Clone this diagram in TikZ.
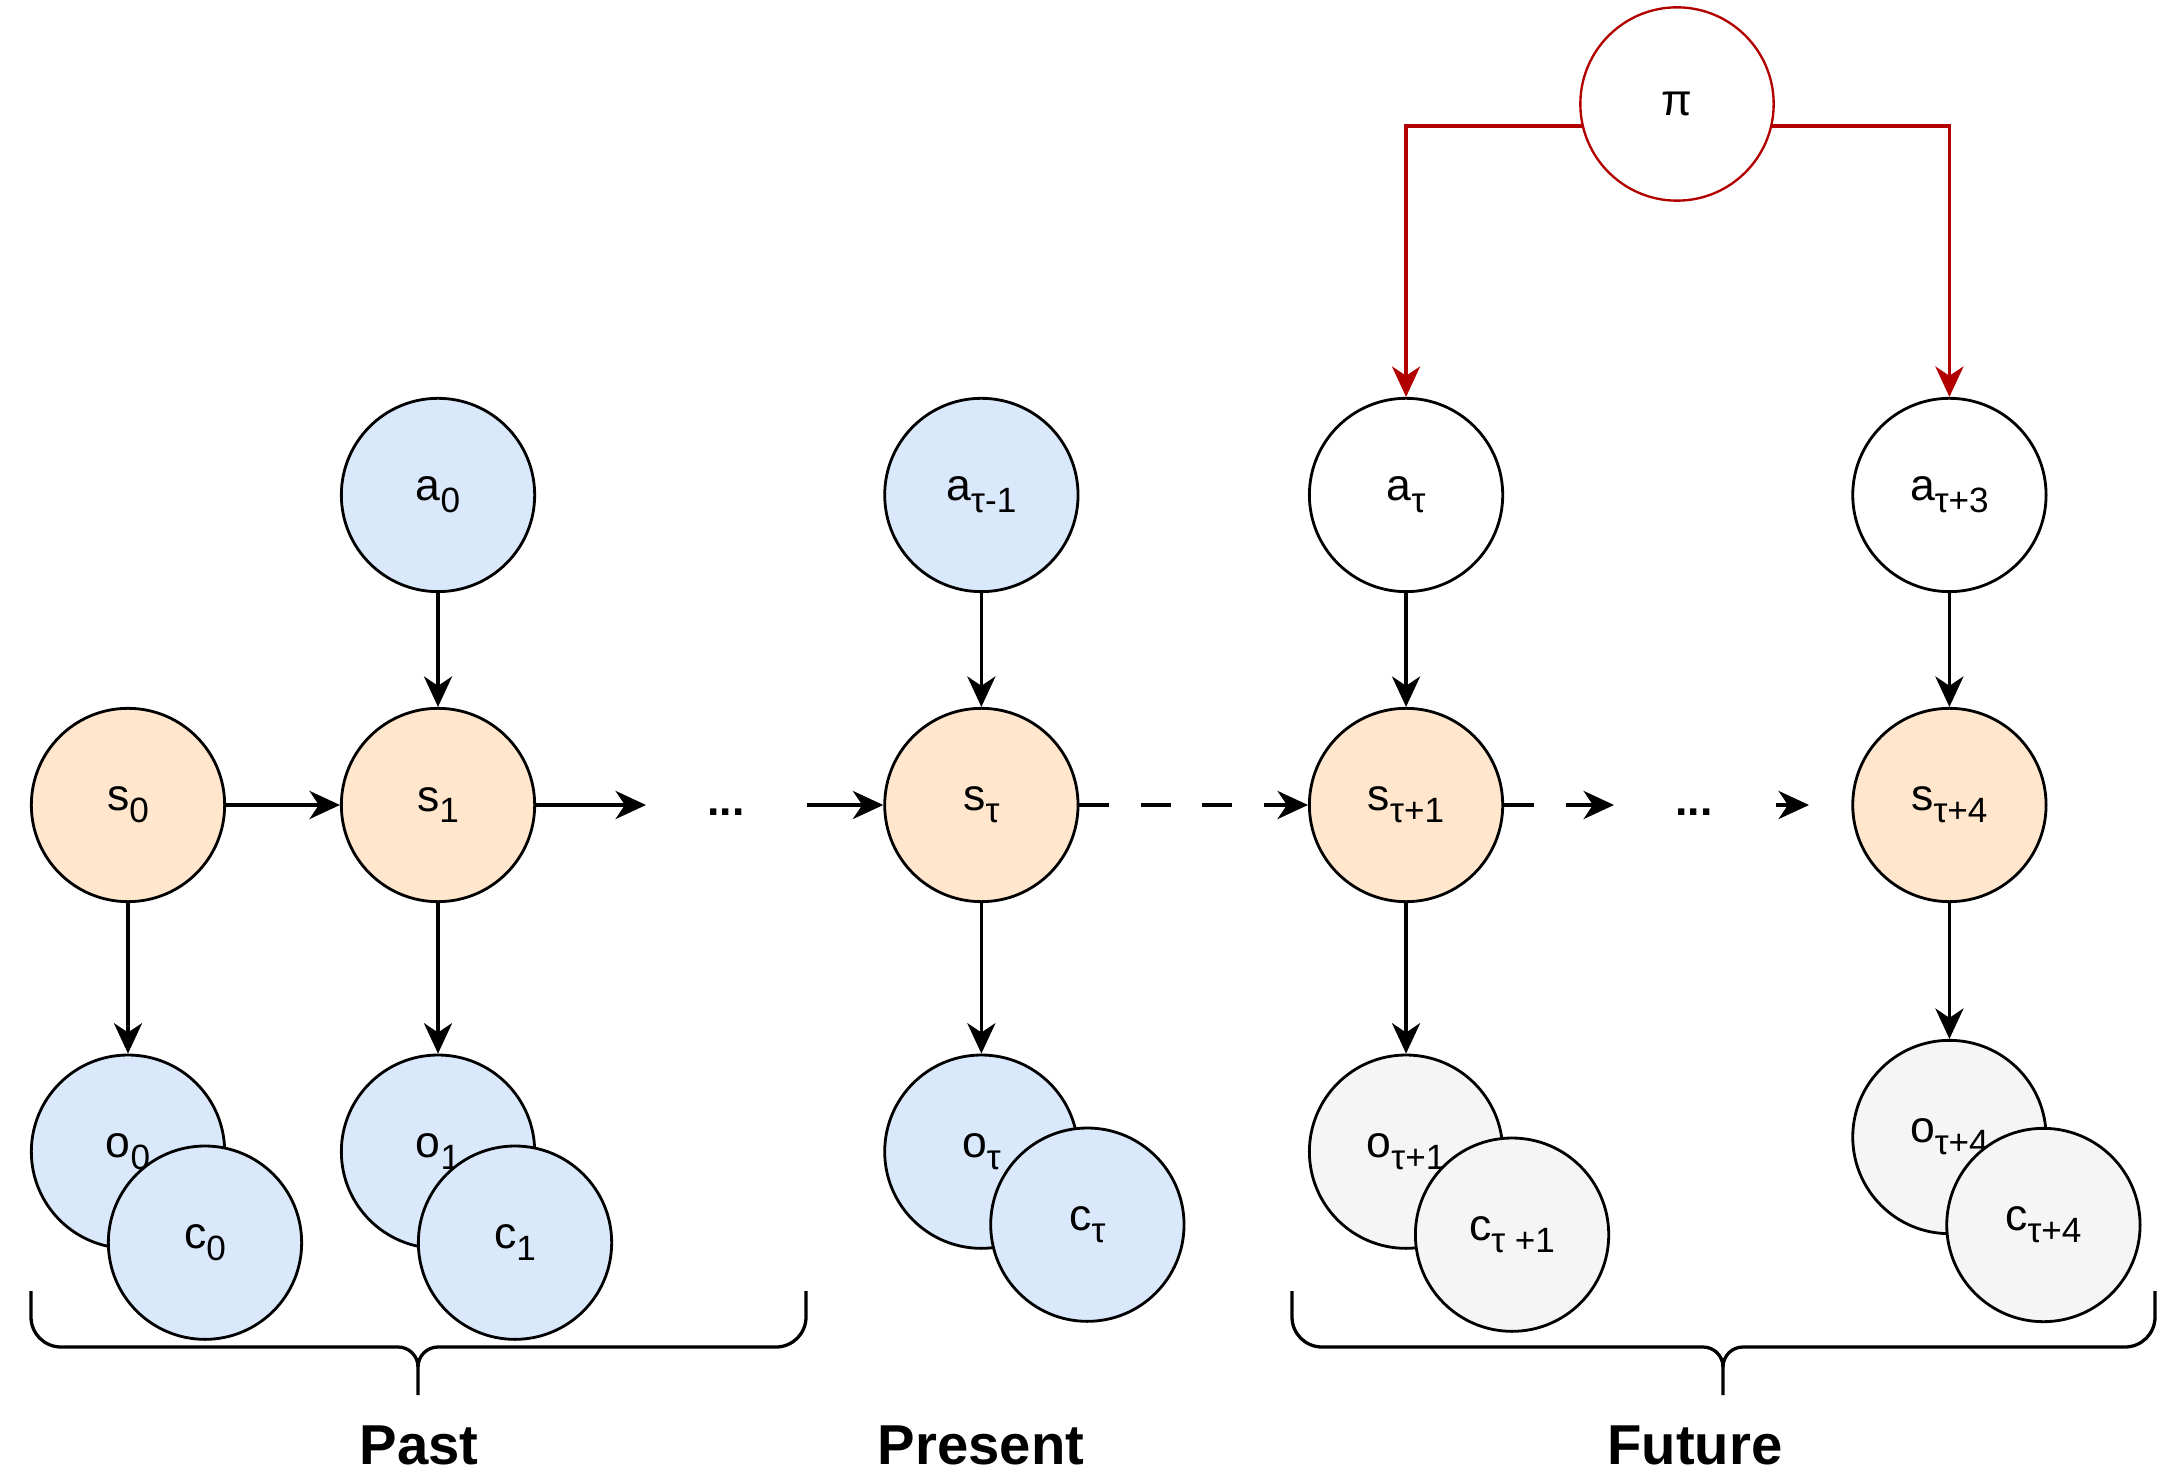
\documentclass[tikz,border=0pt]{standalone}
\usepackage{fontspec}
\setmainfont{Liberation Sans}
\usetikzlibrary{arrows.meta,positioning}

\definecolor{pastblue}{HTML}{DAE8FC}
\definecolor{stateorange}{HTML}{FFE6CC}
\definecolor{futuregray}{HTML}{F5F5F5}
\definecolor{policyred}{HTML}{B20000}

\newcommand{\idx}[1]{\raisebox{-0.5ex}{\fontsize{15}{15}\selectfont #1}}

\begin{document}
\begin{tikzpicture}[x=0.015cm,y=-0.015cm,line width=1.4pt,
    >={Stealth[length=13pt,width=12pt,inset=4pt]},node distance=4.65cm,
    var/.style={circle,draw,minimum size=2.9cm,inner sep=0pt,line width=1.2pt,font=\fontsize{19}{19}\selectfont},
    statenode/.style={var,fill=stateorange},
    pastnode/.style={var,fill=pastblue},
    futurenode/.style={var,fill=futuregray},
    actnode/.style={var,fill=white},
    policynode/.style={var,draw=policyred,line width=1pt},
    longdash/.style={dash pattern=on 12.8pt off 13.4pt},
    periodlabel/.style={font=\fontsize{24}{24}\selectfont\bfseries}]
  \useasboundingbox (0,0) rectangle (2178,1480);

  % states
  \node[statenode] (s0) at (128,805) {s\idx{0}};
  \node[statenode] (s1)  [right of=s0] {s\idx{1}};
  \node[statenode] (st)  [node distance=8.15cm, right of=s1] {s\idx{τ}};
  \node[statenode] (st1) [node distance=6.37cm, right of=st] {s\idx{τ+1}};
  \node[statenode] (st4) [node distance=8.15cm, right of=st1] {s\idx{τ+4}};

  % actions and policy
  \node[pastnode] (a0)  [above of=s1]  {a\idx{0}};
  \node[pastnode] (atm) [above of=st]  {a\idx{τ-1}};
  \node[actnode]  (at)  [above of=st1] {a\idx{τ}};
  \node[actnode]  (at3) [above of=st4] {a\idx{τ+3}};
  \node[policynode] (pi) at (1677,104) {π};

  % observations and costs
  \node[pastnode]   (o0)  [node distance=5.2cm, below of=s0]   {o\idx{0}};
  \node[pastnode]   (c0)  at ([shift={(77,91)}]o0)   {c\idx{0}};
  \node[pastnode]   (o1)  [node distance=5.2cm, below of=s1]   {o\idx{1}};
  \node[pastnode]   (c1)  at ([shift={(77,91)}]o1)   {c\idx{1}};
  \node[pastnode]   (ot)  [node distance=5.2cm, below of=st]   {o\idx{τ}};
  \node[pastnode]   (ct)  at ([shift={(106,73)}]ot)  {c\idx{τ}};
  \node[futurenode] (ot1) [node distance=5.2cm, below of=st1]  {o\idx{τ+1}};
  \node[futurenode] (ct1) at ([shift={(106,83)}]ot1) {c\idx{τ +1}};
  \node[futurenode] (ot4) [node distance=4.98cm, below of=st4] {o\idx{τ+4}};
  \node[futurenode] (ct4) at ([shift={(94,88)}]ot4)  {c\idx{τ+4}};

  % gaps in the chain
  \node[font=\fontsize{19}{19}\selectfont\bfseries] (dotsA) at (726,812) {...};
  \node[font=\fontsize{19}{19}\selectfont\bfseries] (dotsB) at (1694,812) {...};
  \coordinate (gA) at (646,805);
  \coordinate (gB) at (807,805);
  \coordinate (gC) at (1614,805);
  \coordinate (gD) at (1776,805);
  \coordinate (gE) at (1809,805);

  \path[->] (s0) edge (s1)
            (s1) edge (gA)
            (gB) edge (st);
  \path[->, longdash] (st) edge (st1)
                      (st1) edge (gC);
  \path[->] (gD) edge (gE);

  \path[->] (a0) edge (s1)
            (atm) edge (st)
            (at) edge (st1)
            (at3) edge (st4);
  \path[->] (s0) edge (o0)
            (s1) edge (o1)
            (st) edge (ot)
            (st1) edge (ot1)
            (st4) edge (ot4);

  \draw[->, policyred] (pi.193) -| (at.north);
  \draw[->, policyred] (pi.-13) -| (at3.north);

  % braces
  \draw (31,1291) -- (31,1317) to[out=-90,in=180] (61,1347) -- (398,1347)
        to[out=0,in=90] (418,1367) -- (418,1395);
  \draw (806,1291) -- (806,1317) to[out=-90,in=0] (776,1347) -- (438,1347)
        to[out=180,in=90] (418,1367);
  \draw (1292,1291) -- (1292,1317) to[out=-90,in=180] (1322,1347) -- (1703,1347)
        to[out=0,in=90] (1723,1367) -- (1723,1395);
  \draw (2155,1291) -- (2155,1317) to[out=-90,in=0] (2125,1347) -- (1743,1347)
        to[out=180,in=90] (1723,1367);

  \node[periodlabel] (past)    at (419,1445)  {Past};
  \node[periodlabel] (present) at (981,1445)  {Present};
  \node[periodlabel] (future)  at (1695,1445) {Future};
\end{tikzpicture}
\end{document}
